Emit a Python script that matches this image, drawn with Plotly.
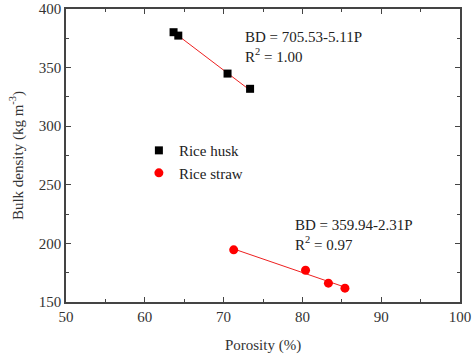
import plotly.graph_objects as go

husk_porosity = [63.65, 64.25, 70.5, 73.36]
husk_bd = [380.2, 377.3, 344.9, 331.9]
straw_porosity = [71.28, 80.4, 83.3, 85.4]
straw_bd = [194.5, 177.1, 166.1, 161.8]

husk_fit = (705.53, -5.11)
straw_fit = (359.94, -2.31)

FONT = "Liberation Serif, Times New Roman, serif"

fig = go.Figure()

def fit_line(xs, coef):
    x0, x1 = min(xs), max(xs)
    return [x0, x1], [coef[0] + coef[1] * x0, coef[0] + coef[1] * x1]

fx, fy = fit_line(husk_porosity, husk_fit)
fig.add_trace(go.Scatter(x=fx, y=fy, mode="lines", line=dict(color="#ee2020", width=1),
                         showlegend=False, hoverinfo="skip"))
fx, fy = fit_line(straw_porosity, straw_fit)
fig.add_trace(go.Scatter(x=fx, y=fy, mode="lines", line=dict(color="#ee2020", width=1),
                         showlegend=False, hoverinfo="skip"))

fig.add_trace(go.Scatter(x=husk_porosity, y=husk_bd, mode="markers", name="Rice husk",
                         marker=dict(symbol="square", size=8, color="black")))
fig.add_trace(go.Scatter(x=straw_porosity, y=straw_bd, mode="markers", name="Rice straw",
                         marker=dict(symbol="circle", size=9, color="#ff0000")))

fig.add_annotation(x=72.4, y=385, xref="x", yref="y", text="BD = 705.53-5.11P<br>R<sup>2</sup> = 1.00",
                   showarrow=False, xanchor="left", yanchor="top", align="left",
                   font=dict(family=FONT, size=15, color="#222"))
fig.add_annotation(x=78.8, y=224, xref="x", yref="y", text="BD = 359.94-2.31P<br>R<sup>2</sup> = 0.97",
                   showarrow=False, xanchor="left", yanchor="top", align="left",
                   font=dict(family=FONT, size=15, color="#222"))

axis_common = dict(showline=True, linecolor="#444", linewidth=1.5, mirror="ticks",
                   ticks="inside", ticklen=5, tickcolor="#444", showgrid=False, zeroline=False,
                   automargin=False,
                   tickfont=dict(family=FONT, size=15, color="#333"))

fig.update_xaxes(range=[50, 100], tickvals=[50, 60, 70, 80, 90, 100],
                 minor=dict(ticks="inside", ticklen=3, tickcolor="#444", dtick=5),
                 title=dict(text="Porosity (%)", font=dict(family=FONT, size=15, color="#333"), standoff=16),
                 **axis_common)
fig.update_yaxes(range=[150, 400], tickvals=[150, 200, 250, 300, 350, 400],
                 minor=dict(ticks="inside", ticklen=3, tickcolor="#444", dtick=25),
                 title=dict(text="Bulk density (kg m<sup>-3</sup>)", font=dict(family=FONT, size=15, color="#333"), standoff=12),
                 **axis_common)

fig.update_layout(
    width=474, height=357,
    margin=dict(l=66, r=14, t=9, b=55),
    plot_bgcolor="white", paper_bgcolor="white",
    font=dict(family=FONT, size=15, color="#222"),
    legend=dict(x=0.185, y=0.573, xanchor="left", yanchor="top", bgcolor="rgba(0,0,0,0)",
                font=dict(family=FONT, size=15, color="#222"), itemwidth=30, tracegroupgap=0),
)

fig.write_html("out.html", config={"displayModeBar": False},
               post_script="document.body.style.margin='0';document.body.style.padding='0';")
